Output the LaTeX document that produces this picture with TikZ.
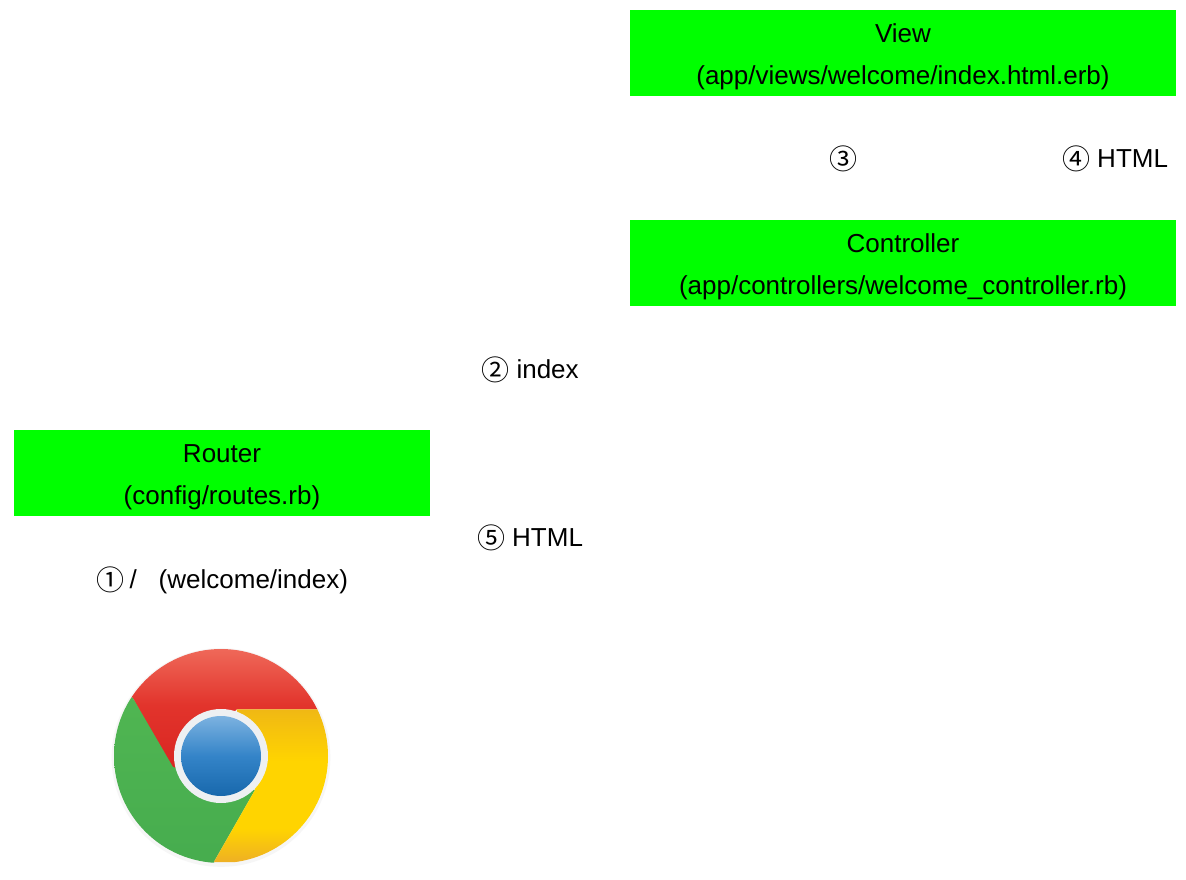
\documentclass[tikz,border=0pt]{standalone}
\usepackage{fontspec}
\setmainfont{Liberation Sans}
\newfontfamily\cjk{Noto Sans CJK JP}
\newcommand{\cn}[1]{\raisebox{-1.4pt}{\fontsize{21}{24}\selectfont\cjk #1}}
\newcommand{\boxline}[1]{\raisebox{-2.25pt}{#1}}
\definecolor{boxgreen}{RGB}{0,255,0}
\definecolor{redtop}{RGB}{240,108,92}
\definecolor{redmid}{RGB}{226,52,44}
\definecolor{redbot}{RGB}{216,36,32}
\definecolor{greentop}{RGB}{80,182,82}
\definecolor{greenbot}{RGB}{70,172,78}
\definecolor{yelA}{RGB}{240,184,20}
\definecolor{yelB}{RGB}{255,212,0}
\definecolor{yelC}{RGB}{238,176,36}
\definecolor{ringc}{RGB}{238,240,242}
\definecolor{blueT}{RGB}{124,178,224}
\definecolor{blueM}{RGB}{52,132,200}
\definecolor{blueB}{RGB}{24,104,172}
\definecolor{halo}{RGB}{246,246,246}
\pgfdeclareverticalshading{yelshade}{100bp}{color(0bp)=(yelC); color(25bp)=(yelC); color(36bp)=(yelB); color(58bp)=(yelB); color(75bp)=(yelA); color(100bp)=(yelA)}
\pgfdeclareverticalshading{redshade}{100bp}{color(0bp)=(redbot); color(25bp)=(redbot); color(52bp)=(redmid); color(75bp)=(redtop); color(100bp)=(redtop)}
\pgfdeclareverticalshading{blueshade}{100bp}{color(0bp)=(blueB); color(25bp)=(blueB); color(50bp)=(blueM); color(75bp)=(blueT); color(100bp)=(blueT)}
\tikzset{
  box/.style={fill=boxgreen,draw=none,inner sep=0pt,align=center,font=\fontsize{19.5}{31.5}\selectfont,text depth=0pt},
  lab/.style={inner sep=0pt,font=\fontsize{19.5}{24}\selectfont,text height=19.5pt,text depth=5pt},
}
\begin{document}
\begin{tikzpicture}[x=0.75pt,y=-0.75pt]
\useasboundingbox (0,0) rectangle (1186,880);
\fill[white] (0,0) rectangle (1186,880);
\node[box,minimum width=409.5pt,minimum height=64.5pt] (view) at (903,53) {\boxline{View}\\\boxline{(app/views/welcome/index.html.erb)}};
\node[box,minimum width=409.5pt,minimum height=64.5pt] (controller) at (903,263) {\boxline{Controller}\\\boxline{(app/controllers/welcome\_controller.rb)}};
\node[box,minimum width=312pt,minimum height=64.5pt] (router) at (222,473) {\boxline{Router}\\\boxline{(config/routes.rb)}};
\node[lab] (s3) at (843.5,158) {\cn{③}};
\node[lab] (s4) at (1115,158) {\cn{④} HTML};
\node[lab] (s2) at (530,369) {\cn{②} index};
\node[lab] (s5) at (530,537) {\cn{⑤} HTML};
\node[lab] (s1) at (222.5,579) {\cn{①}\hspace{-2pt} /\hspace{16.5pt}(welcome/index)};
% Chrome logo
\coordinate (c) at (221,756);
\fill[halo] (221,757.5) circle[radius=82pt];
\begin{scope}
\clip (c) circle[radius=80.25pt];
\shade[shading=redshade]
  (105,645) -- (337,645) -- (337,709.3) -- (236.7,709.3) -- (173,775) -- (132.7,697.7) -- (105,690) -- cycle;
\shade[top color=greentop,bottom color=greenbot]
  (105,690) -- (132.7,697.7) -- (173,767) -- (255,790) -- (214,861.7) -- (214,870) -- (105,870) -- cycle;
\shade[shading=yelshade]
  (236.7,709.3) -- (337,709.3) -- (337,862) -- (214,862) -- (214,861.7) -- (255,790) -- cycle;
\end{scope}
\fill[ringc] (c) circle[radius=35.25pt];
\shade[shading=blueshade] (c) circle[radius=30pt];
\end{tikzpicture}
\end{document}
